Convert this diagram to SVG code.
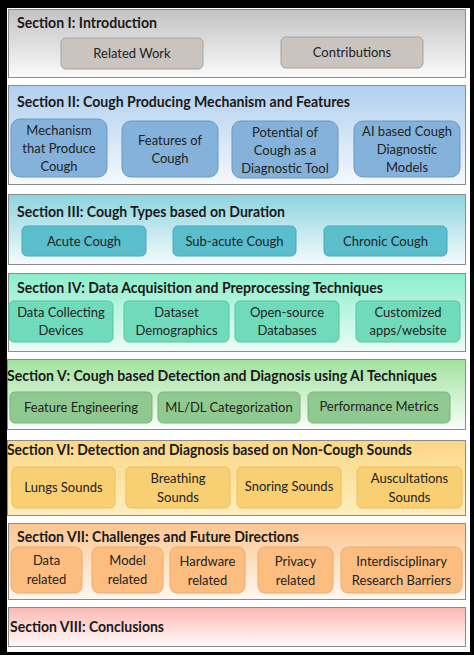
<svg xmlns="http://www.w3.org/2000/svg" width="474" height="671" viewBox="0 0 474 671">
<defs>
<linearGradient id="g1" x1="0" y1="0" x2="0" y2="1"><stop offset="0" stop-color="#c2c2c2"/><stop offset="1" stop-color="#fbfbfb"/></linearGradient>
<linearGradient id="g2" x1="0" y1="0" x2="0" y2="1"><stop offset="0" stop-color="#b0cfee"/><stop offset="1" stop-color="#f5f9fd"/></linearGradient>
<linearGradient id="g3" x1="0" y1="0" x2="0" y2="1"><stop offset="0" stop-color="#8cd4de"/><stop offset="1" stop-color="#f5fbfc"/></linearGradient>
<linearGradient id="g4" x1="0" y1="0" x2="0" y2="1"><stop offset="0" stop-color="#8aeecb"/><stop offset="1" stop-color="#eefcf7"/></linearGradient>
<linearGradient id="g5" x1="0" y1="0" x2="0" y2="1"><stop offset="0" stop-color="#a0e29e"/><stop offset="1" stop-color="#fbfefb"/></linearGradient>
<linearGradient id="g6" x1="0" y1="0" x2="0" y2="1"><stop offset="0" stop-color="#fbd787"/><stop offset="1" stop-color="#fdeebd"/></linearGradient>
<linearGradient id="g7" x1="0" y1="0" x2="0" y2="1"><stop offset="0" stop-color="#fcc690"/><stop offset="1" stop-color="#fdf8f3"/></linearGradient>
<linearGradient id="g8" x1="0" y1="0" x2="0" y2="1"><stop offset="0" stop-color="#fbb8b3"/><stop offset="1" stop-color="#fefafa"/></linearGradient>
</defs>
<style>
.sec{stroke:#8c8c8c;stroke-width:1}
.title{font-family:Lato,"Liberation Sans",sans-serif;font-weight:bold;font-size:14.5px;fill:#1a1a1a}
.lbl{font-family:Lato,"Liberation Sans",sans-serif;font-size:13px;fill:#222;text-anchor:middle}
.n1{fill:#c9c4c0;stroke:#a7a29e}
.n2{fill:#84b2da;stroke:#6898c4}
.n3{fill:#5bbecd;stroke:#4aa8b7}
.n4{fill:#70dbbb;stroke:#58c2a3}
.n5{fill:#8fc98f;stroke:#78b478}
.n6{fill:#f8cf72;stroke:#eebf5c}
.n7{fill:#fbbd80;stroke:#f2ab68}
</style>
<rect x="0" y="0" width="474" height="671" fill="#ffffff"/>
<rect x="0" y="0" width="474" height="655" fill="#000000"/>
<rect x="7" y="8" width="463" height="644" fill="#ffffff"/>

<g id="sec1">
<rect class="sec" x="8.5" y="9.5" width="457" height="68" fill="url(#g1)"/>
<text class="title" x="17" y="28" textLength="140" lengthAdjust="spacingAndGlyphs">Section I: Introduction</text>
</g>
<g id="sec1-related"><rect class="n1" x="61" y="38" width="142" height="31" rx="5"/><text class="lbl" x="132" y="58">Related Work</text></g>
<g id="sec1-contrib"><rect class="n1" x="281" y="37" width="142" height="31" rx="5"/><text class="lbl" x="352" y="57">Contributions</text></g>

<g id="sec2">
<rect class="sec" x="8.5" y="85.5" width="457" height="99" fill="url(#g2)"/>
<text class="title" x="17" y="107" textLength="333" lengthAdjust="spacingAndGlyphs">Section II: Cough Producing Mechanism and Features</text>
</g>
<g id="sec2-mech"><rect class="n2" x="11" y="119" width="96" height="58" rx="9"/><text class="lbl" x="59" y="135">Mechanism</text><text class="lbl" x="59" y="153">that Produce</text><text class="lbl" x="59" y="171">Cough</text></g>
<g id="sec2-feat"><rect class="n2" x="122" y="121" width="96" height="56" rx="9"/><text class="lbl" x="170" y="145">Features of</text><text class="lbl" x="170" y="163">Cough</text></g>
<g id="sec2-pot"><rect class="n2" x="232" y="121" width="106" height="57" rx="9"/><text class="lbl" x="285" y="137">Potential of</text><text class="lbl" x="285" y="155">Cough as a</text><text class="lbl" x="285" y="173">Diagnostic Tool</text></g>
<g id="sec2-ai"><rect class="n2" x="354" y="121" width="106" height="56" rx="9"/><text class="lbl" x="407" y="136">AI based Cough</text><text class="lbl" x="407" y="154">Diagnostic</text><text class="lbl" x="407" y="172">Models</text></g>

<g id="sec3">
<rect class="sec" x="8.5" y="194.5" width="457" height="70" fill="url(#g3)"/>
<text class="title" x="17" y="217" textLength="268" lengthAdjust="spacingAndGlyphs">Section III: Cough Types based on Duration</text>
</g>
<g id="sec3-acute"><rect class="n3" x="22" y="226" width="124" height="30" rx="5"/><text class="lbl" x="84" y="246">Acute Cough</text></g>
<g id="sec3-sub"><rect class="n3" x="173" y="226" width="123" height="30" rx="5"/><text class="lbl" x="234.5" y="246">Sub-acute Cough</text></g>
<g id="sec3-chronic"><rect class="n3" x="324" y="226" width="123" height="30" rx="5"/><text class="lbl" x="385.5" y="246">Chronic Cough</text></g>

<g id="sec4">
<rect class="sec" x="8.5" y="273.5" width="457" height="78" fill="url(#g4)"/>
<text class="title" x="17" y="293" textLength="366" lengthAdjust="spacingAndGlyphs">Section IV: Data Acquisition and Preprocessing Techniques</text>
</g>
<g id="sec4-dev"><rect class="n4" x="9" y="301" width="104" height="41" rx="5"/><text class="lbl" x="61" y="317">Data Collecting</text><text class="lbl" x="61" y="335">Devices</text></g>
<g id="sec4-demo"><rect class="n4" x="124" y="301" width="105" height="41" rx="5"/><text class="lbl" x="176.5" y="317">Dataset</text><text class="lbl" x="176.5" y="335">Demographics</text></g>
<g id="sec4-open"><rect class="n4" x="235" y="301" width="104" height="41" rx="5"/><text class="lbl" x="287" y="317">Open-source</text><text class="lbl" x="287" y="335">Databases</text></g>
<g id="sec4-apps"><rect class="n4" x="356" y="301" width="104" height="41" rx="5"/><text class="lbl" x="408" y="317">Customized</text><text class="lbl" x="408" y="335">apps/website</text></g>

<g id="sec5">
<rect class="sec" x="7.5" y="359.5" width="458" height="70" fill="url(#g5)"/>
<text class="title" x="7" y="381" textLength="430" lengthAdjust="spacingAndGlyphs">Section V: Cough based Detection and Diagnosis using AI Techniques</text>
</g>
<g id="sec5-feat"><rect class="n5" x="10" y="392" width="142" height="31" rx="5"/><text class="lbl" x="81" y="412">Feature Engineering</text></g>
<g id="sec5-ml"><rect class="n5" x="158" y="392" width="142" height="31" rx="5"/><text class="lbl" x="229" y="412">ML/DL Categorization</text></g>
<g id="sec5-perf"><rect class="n5" x="308" y="392" width="142" height="31" rx="5"/><text class="lbl" x="379" y="411">Performance Metrics</text></g>

<g id="sec6">
<rect class="sec" x="7.5" y="440.5" width="458" height="75" fill="url(#g6)"/>
<text class="title" x="7" y="455" textLength="405" lengthAdjust="spacingAndGlyphs">Section VI: Detection and Diagnosis based on Non-Cough Sounds</text>
</g>
<g id="sec6-lungs"><rect class="n6" x="12" y="467" width="103" height="41" rx="5"/><text class="lbl" x="63.5" y="492">Lungs Sounds</text></g>
<g id="sec6-breath"><rect class="n6" x="126" y="467" width="104" height="41" rx="5"/><text class="lbl" x="178" y="483">Breathing</text><text class="lbl" x="178" y="502">Sounds</text></g>
<g id="sec6-snore"><rect class="n6" x="237" y="467" width="104" height="41" rx="5"/><text class="lbl" x="289" y="491">Snoring Sounds</text></g>
<g id="sec6-ausc"><rect class="n6" x="357" y="467" width="105" height="41" rx="5"/><text class="lbl" x="409.5" y="483">Auscultations</text><text class="lbl" x="409.5" y="502">Sounds</text></g>

<g id="sec7">
<rect class="sec" x="8.5" y="523.5" width="457" height="76" fill="url(#g7)"/>
<text class="title" x="17" y="542" textLength="282" lengthAdjust="spacingAndGlyphs">Section VII: Challenges and Future Directions</text>
</g>
<g id="sec7-data"><rect class="n7" x="11" y="547" width="71" height="46" rx="7"/><text class="lbl" x="46.5" y="565">Data</text><text class="lbl" x="46.5" y="584">related</text></g>
<g id="sec7-model"><rect class="n7" x="92" y="547" width="71" height="46" rx="7"/><text class="lbl" x="127.5" y="565">Model</text><text class="lbl" x="127.5" y="584">related</text></g>
<g id="sec7-hw"><rect class="n7" x="170" y="547" width="75" height="46" rx="7"/><text class="lbl" x="207.5" y="566">Hardware</text><text class="lbl" x="207.5" y="585">related</text></g>
<g id="sec7-priv"><rect class="n7" x="258" y="547" width="75" height="46" rx="7"/><text class="lbl" x="295.5" y="566">Privacy</text><text class="lbl" x="295.5" y="585">related</text></g>
<g id="sec7-inter"><rect class="n7" x="341" y="547" width="121" height="46" rx="7"/><text class="lbl" x="401.5" y="566">Interdisciplinary</text><text class="lbl" x="401.5" y="585">Research Barriers</text></g>

<g id="sec8">
<rect class="sec" x="8.5" y="607.5" width="457" height="39" fill="url(#g8)"/>
<text class="title" x="10" y="632" textLength="154" lengthAdjust="spacingAndGlyphs">Section VIII: Conclusions</text>
</g>
<g id="connectors"></g>
</svg>
